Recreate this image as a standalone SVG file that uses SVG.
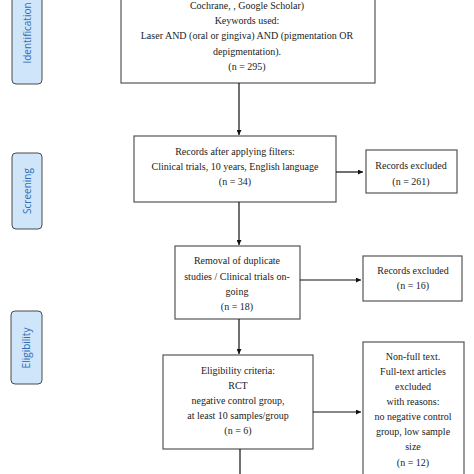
<svg xmlns="http://www.w3.org/2000/svg" width="474" height="474" viewBox="0 0 474 474">
<defs>
<marker id="ah" viewBox="0 0 10 10" refX="10" refY="5" markerWidth="5" markerHeight="5" orient="auto" markerUnits="userSpaceOnUse"><path d="M0,0 L10,5 L0,10 z" fill="#111"/></marker>
<style>
.box{fill:#fff;stroke:#555;stroke-width:1.2}
.lab{fill:#cfe5fa;stroke:#4a4a4a;stroke-width:1}
.t{font-family:"Liberation Serif","Times New Roman",serif;font-size:10px;fill:#222;text-anchor:middle}
.lt{font-family:"Open Sans","Liberation Sans",sans-serif;font-size:10px;fill:#2f6db3;text-anchor:middle}
.c{stroke:#111;stroke-width:1.2;fill:none}
</style>
</defs>
<rect width="474" height="474" fill="#fff"/>
<g id="label-identification"><rect class="lab" x="12" y="-10" width="30" height="94" rx="4"/><text class="lt" transform="translate(31,33) rotate(-90)">Identification</text></g>
<g id="label-screening"><rect class="lab" x="12" y="153" width="30" height="76" rx="4"/><text class="lt" transform="translate(31,191) rotate(-90)">Screening</text></g>
<g id="label-eligibility"><rect class="lab" x="11" y="311" width="31" height="73" rx="4"/><text class="lt" transform="translate(30,348) rotate(-90)">Eligibility</text></g>
<g id="box-identification"><rect class="box" x="121" y="-20" width="254" height="103"/>
<text class="t" x="247" y="9">Cochrane, , Google Scholar)</text>
<text class="t" x="247" y="24">Keywords used:</text>
<text class="t" x="247" y="39">Laser AND (oral or gingiva) AND (pigmentation OR</text>
<text class="t" x="247" y="55">depigmentation).</text>
<text class="t" x="247" y="70">(n = 295)</text></g>
<g id="box-screening"><rect class="box" x="134" y="136" width="202" height="66"/>
<text class="t" x="235" y="155">Records after applying filters:</text>
<text class="t" x="235" y="170">Clinical trials, 10 years, English language</text>
<text class="t" x="235" y="185">(n = 34)</text></g>
<g id="box-excluded1"><rect class="box" x="366" y="150" width="91" height="43"/>
<text class="t" x="411" y="169">Records excluded</text>
<text class="t" x="411" y="185">(n = 261)</text></g>
<g id="box-duplicates"><rect class="box" x="175" y="246" width="125" height="73"/>
<text class="t" x="237" y="264">Removal of duplicate</text>
<text class="t" x="237" y="280">studies / Clinical trials on-</text>
<text class="t" x="237" y="295">going</text>
<text class="t" x="237" y="310">(n = 18)</text></g>
<g id="box-excluded2"><rect class="box" x="363" y="256" width="99" height="45"/>
<text class="t" x="413" y="274">Records excluded</text>
<text class="t" x="413" y="289">(n = 16)</text></g>
<g id="box-eligibility"><rect class="box" x="163" y="355" width="150" height="94"/>
<text class="t" x="238" y="374">Eligibility criteria:</text>
<text class="t" x="238" y="389">RCT</text>
<text class="t" x="238" y="404">negative control group,</text>
<text class="t" x="238" y="419">at least 10 samples/group</text>
<text class="t" x="238" y="434">(n = 6)</text></g>
<g id="box-excluded3"><rect class="box" x="363" y="342" width="101" height="150"/>
<text class="t" x="413" y="360">Non-full text.</text>
<text class="t" x="413" y="375">Full-text articles</text>
<text class="t" x="413" y="390">excluded</text>
<text class="t" x="413" y="405">with reasons:</text>
<text class="t" x="413" y="420">no negative control</text>
<text class="t" x="413" y="435">group, low sample</text>
<text class="t" x="413" y="450">size</text>
<text class="t" x="413" y="466">(n = 12)</text></g>
<g id="connectors">
<line class="c" x1="239" y1="83" x2="239" y2="135" marker-end="url(#ah)"/>
<line class="c" x1="336" y1="172" x2="363" y2="172" marker-end="url(#ah)"/>
<line class="c" x1="239" y1="202" x2="239" y2="245" marker-end="url(#ah)"/>
<line class="c" x1="300" y1="280" x2="361" y2="280" marker-end="url(#ah)"/>
<line class="c" x1="239" y1="319" x2="239" y2="354" marker-end="url(#ah)"/>
<line class="c" x1="313" y1="412" x2="361" y2="412" marker-end="url(#ah)"/>
<line class="c" x1="240" y1="449" x2="240" y2="480"/>
</g>
</svg>
